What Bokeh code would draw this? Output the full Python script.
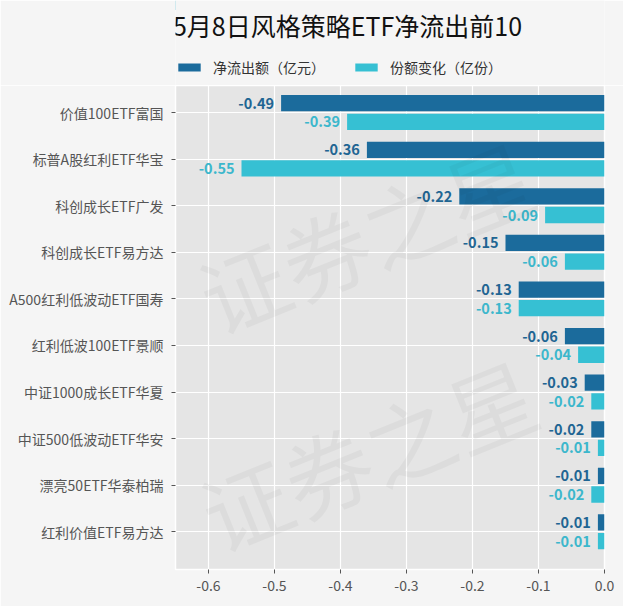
import math
from bokeh.plotting import figure
from bokeh.layouts import column
from bokeh.models import (Range1d, FixedTicker, PrintfTickFormatter, ColumnDataSource,
                          Label, Legend, LegendItem)
from bokeh.core.properties import value
from bokeh.embed import file_html
from bokeh.resources import INLINE

# ---- data ----
title_text = "5月8日风格策略ETF净流出前10"
fund_names = ["价值100ETF富国", "标普A股红利ETF华宝", "科创成长ETF广发", "科创成长ETF易方达",
              "A500红利低波动ETF国寿", "红利低波100ETF景顺", "中证1000成长ETF华夏",
              "中证500低波动ETF华安", "漂亮50ETF华泰柏瑞", "红利价值ETF易方达"]
net_outflow = [-0.49, -0.36, -0.22, -0.15, -0.13, -0.06, -0.03, -0.02, -0.01, -0.01]
share_change = [-0.39, -0.55, -0.09, -0.06, -0.13, -0.04, -0.02, -0.01, -0.02, -0.01]
series_names = ["净流出额（亿元）", "份额变化（亿份）"]
x_ticks = [-0.6, -0.5, -0.4, -0.3, -0.2, -0.1, 0.0]
watermark = "证券之星"

# ---- styles / layout ----
FONT = "Noto Sans CJK SC"
DARK = "#1b6b9c"
LIGHT = "#36c0d3"
DARK_TXT = "#1f6593"
LIGHT_TXT = "#3cb7cc"
BG = "#f5f5f5"
W, TOTAL_H = 623, 606
FL, FR, FT, FB = 175, 604, 85, 569      # frame edges in page px
HEAD_H = FT
MAIN_H = TOTAL_H - HEAD_H
WM_ANGLE = math.radians(22)
WM_SIZE = "88px"
WM_ALPHA = 0.035
wm_spots = [(202, 300), (204, 518)]      # page px, kept wholly inside the plot frame

pos = list(range(len(fund_names)))
off = 0.2
src_a = ColumnDataSource(dict(y=[q - off for q in pos], v=net_outflow,
                              t=[f"{v:.2f}" for v in net_outflow]))
src_b = ColumnDataSource(dict(y=[q + off for q in pos], v=share_change,
                              t=[f"{v:.2f}" for v in share_change]))

# ---------- header: title + legend (frame aligned with main frame, page px ranges) ----------
head = figure(width=W, height=HEAD_H, x_range=Range1d(FL, FR), y_range=Range1d(HEAD_H, 0),
              output_backend="svg", toolbar_location=None,
              min_border=0, x_axis_location=None, y_axis_location=None)
head.xgrid.visible = False
head.ygrid.visible = False
head.background_fill_color = BG
head.border_fill_color = BG
head.outline_line_color = None

# legend proxies (same data; their bars fall outside this header's x range)
d1 = head.hbar(y="y", left=0, right="v", height=0.35, source=src_a, fill_color=DARK, line_color=None)
d2 = head.hbar(y="y", left=0, right="v", height=0.35, source=src_b, fill_color=LIGHT, line_color=None)
legend = Legend(items=[LegendItem(label=series_names[0], renderers=[d1]),
                       LegendItem(label=series_names[1], renderers=[d2])],
                orientation="horizontal", location=(0, 8),
                glyph_width=28, glyph_height=10, label_standoff=10, spacing=27,
                padding=5, margin=0,
                label_text_font=FONT, label_text_font_size="14px", label_text_color="#333333",
                border_line_color=None, background_fill_alpha=0)
head.add_layout(legend)
head.add_layout(Label(x=347, y=24, text=title_text, text_align="center",
                      text_baseline="middle", text_font=FONT, text_font_size="25px",
                      text_color="#111111"))

# ---------- main chart ----------
p = figure(width=W, height=MAIN_H,
           x_range=Range1d(-0.65, 0.0), y_range=Range1d(9.81, -0.58),
           output_backend="svg", toolbar_location=None,
           min_border_left=FL, min_border_top=0, min_border_right=W - FR,
           min_border_bottom=TOTAL_H - FB)
p.background_fill_color = "#e5e5e5"
p.border_fill_color = BG
p.outline_line_color = "white"
p.outline_line_width = 1.5

p.hbar(y="y", left=0, right="v", height=0.35, source=src_a, fill_color=DARK, line_color=None)
p.hbar(y="y", left=0, right="v", height=0.35, source=src_b, fill_color=LIGHT, line_color=None)

for src, col in ((src_a, DARK_TXT), (src_b, LIGHT_TXT)):
    p.text(x="v", y="y", text="t", source=src, x_offset=-7, text_align="right",
           text_baseline="middle", text_font=value(FONT), text_font_size="14.5px",
           text_font_style="bold", text_color=col)

p.xaxis.ticker = FixedTicker(ticks=x_ticks)
p.xaxis.formatter = PrintfTickFormatter(format="%.1f")
p.yaxis.ticker = FixedTicker(ticks=pos)
p.yaxis.major_label_overrides = {i: n for i, n in zip(pos, fund_names)}
for ax in (p.xaxis, p.yaxis):
    ax.axis_line_color = None
    ax.major_tick_line_color = "#555555"
    ax.major_tick_out = 4
    ax.major_tick_in = 0
    ax.minor_tick_line_color = None
    ax.major_label_text_font = FONT
    ax.major_label_text_font_size = "14px"
    ax.major_label_text_color = "#555555"
p.yaxis.major_label_standoff = 8
p.xaxis.major_label_standoff = 6

p.xgrid.ticker = FixedTicker(ticks=x_ticks)
p.ygrid.ticker = FixedTicker(ticks=pos)
for g in (p.xgrid, p.ygrid):
    g.grid_line_color = "white"
    g.grid_line_width = 1.2

def dx(px):
    return (px - FR) / 660.0

def dy(py):
    return (py - 112) / 46.6

for (wx, wy) in wm_spots:
    p.add_layout(Label(x=dx(wx), y=dy(wy), text=watermark, angle=WM_ANGLE,
                       text_align="left", text_baseline="middle", text_font=FONT,
                       text_font_size=WM_SIZE, text_color="#000000", text_alpha=WM_ALPHA))

page = column(head, p, spacing=0)
open("out.html", "w").write(file_html(page, INLINE))
